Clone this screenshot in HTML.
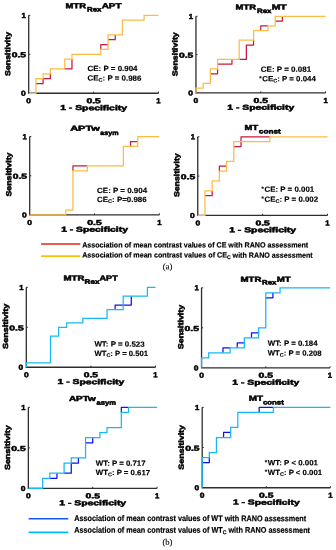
<!DOCTYPE html>
<html><head><meta charset="utf-8"><title>ROC curves</title>
<style>html,body{margin:0;padding:0;background:#fff;}svg{display:block;}.ax{stroke-width:0.5px}.lg{stroke-width:0.2px}.pv{stroke-width:0.15px}</style></head>
<body><svg width="336" height="550" viewBox="0 0 336 550">
<rect width="336" height="550" fill="#fff"/>
<g font-family="Liberation Sans, Arial, Helvetica, sans-serif" font-weight="bold" fill="#000" stroke="#000" stroke-width="0.25">
<path d="M28.7 15.3V93.25H158.5" fill="none" stroke="#2e2e2e" stroke-width="1.3"/>
<path d="M28.7 15.3h1.6M28.7 54.27h1.6M93.6 93.25v-1.6M158.5 93.25v-1.6" fill="none" stroke="#2e2e2e" stroke-width="1"/>
<path d="M35.91 83.51L43.12 83.51L43.12 78.63L50.33 78.63L50.33 73.76M64.76 68.89L71.97 68.89L71.97 64.02L71.97 59.15M100.81 49.4L100.81 44.53L108.02 44.53M108.02 39.66L115.23 39.66L115.23 34.79" fill="none" stroke="#c8193f" stroke-width="1.25" stroke-linejoin="round"/>
<path d="M28.7 93.25L35.91 93.25L35.91 78.63L43.12 78.63L43.12 73.76L50.33 73.76L50.33 68.89L64.76 68.89L64.76 59.15L71.97 59.15L71.97 54.27L100.81 54.27L100.81 49.4L108.02 49.4L108.02 34.79L122.44 34.79L122.44 20.17L144.08 20.17L144.08 15.3L158.5 15.3" fill="none" stroke="#fbbd45" stroke-width="1.25"/>
<text class="ax" x="25.9" y="17.9" font-size="7.2" text-anchor="end" textLength="4.3" lengthAdjust="spacingAndGlyphs" transform="rotate(0.05 25.9 17.9)">1</text>
<text class="ax" x="26.1" y="57.38" font-size="7.2" text-anchor="end" textLength="14.4" lengthAdjust="spacingAndGlyphs" transform="rotate(0.05 26.1 57.38)">0.5</text>
<text class="ax" x="25.7" y="95.85" font-size="7.2" text-anchor="end" textLength="4.7" lengthAdjust="spacingAndGlyphs" transform="rotate(0.05 25.7 95.85)">0</text>
<text class="ax" x="28.7" y="103.25" font-size="7.2" text-anchor="middle" textLength="4.7" lengthAdjust="spacingAndGlyphs" transform="rotate(0.05 28.7 103.25)">0</text>
<text class="ax" x="93.6" y="103.25" font-size="7.2" text-anchor="middle" textLength="14.4" lengthAdjust="spacingAndGlyphs" transform="rotate(0.05 93.6 103.25)">0.5</text>
<text class="ax" x="158.5" y="103.25" font-size="7.2" text-anchor="middle" textLength="4.3" lengthAdjust="spacingAndGlyphs" transform="rotate(0.05 158.5 103.25)">1</text>
<text class="ax" x="93.6" y="110.15" font-size="7.2" text-anchor="middle" textLength="66.8" lengthAdjust="spacingAndGlyphs" transform="rotate(0.05 93.6 110.15)">1 - Specificity</text>
<text transform="translate(10.3 53.98) rotate(-89.95)" class="ax" font-size="7.4" text-anchor="middle" textLength="44" lengthAdjust="spacingAndGlyphs">Sensitivity</text>
<text class="ax" x="65.55" y="8.3" font-size="7.3" textLength="20.5" lengthAdjust="spacingAndGlyphs" transform="rotate(0.05 65.55 8.3)">MTR</text>
<text class="ax" x="87.05" y="11.6" font-size="6.4" textLength="14.45" lengthAdjust="spacingAndGlyphs" transform="rotate(0.05 87.05 11.6)">Rex</text>
<text class="ax" x="101.65" y="8.3" font-size="7.3" textLength="19.85" lengthAdjust="spacingAndGlyphs" transform="rotate(0.05 101.65 8.3)">APT</text>
<text class="pv" x="87.6" y="70.9" font-size="7.5" textLength="49.9" lengthAdjust="spacingAndGlyphs" transform="rotate(0.05 87.6 70.9)">CE: P = 0.904</text>
<text class="pv" x="87.6" y="80.6" font-size="7.5" textLength="53.8" lengthAdjust="spacingAndGlyphs" transform="rotate(0.05 87.6 80.6)">CE<tspan font-size="5.3" dy="1.2">C</tspan><tspan dy="-1.2">: P = 0.986</tspan></text>
<path d="M195.95 16.3V92.9H325.6" fill="none" stroke="#2e2e2e" stroke-width="1.3"/>
<path d="M195.95 16.3h1.6M195.95 54.6h1.6M260.77 92.9v-1.6M325.6 92.9v-1.6" fill="none" stroke="#2e2e2e" stroke-width="1"/>
<path d="M210.36 73.75L217.56 73.75L217.56 68.96M217.56 64.18L224.76 64.18L231.96 64.18L231.96 59.39M239.17 59.39L246.37 59.39L246.37 54.6L246.37 49.81L246.37 45.02L253.57 45.02L253.57 40.24M260.77 30.66L260.77 25.88L267.98 25.88M275.18 21.09L282.38 21.09L282.38 16.3" fill="none" stroke="#c8193f" stroke-width="1.25" stroke-linejoin="round"/>
<path d="M195.95 92.9L195.95 88.11L203.15 88.11L203.15 83.33L210.36 83.33L210.36 68.96L217.56 68.96L217.56 59.39L239.17 59.39L239.17 40.24L253.57 40.24L253.57 30.66L267.98 30.66L267.98 25.88L275.18 25.88L275.18 16.3L325.6 16.3" fill="none" stroke="#fbbd45" stroke-width="1.25"/>
<text class="ax" x="193.15" y="18.9" font-size="7.2" text-anchor="end" textLength="4.3" lengthAdjust="spacingAndGlyphs" transform="rotate(0.05 193.15 18.9)">1</text>
<text class="ax" x="193.35" y="57.7" font-size="7.2" text-anchor="end" textLength="14.4" lengthAdjust="spacingAndGlyphs" transform="rotate(0.05 193.35 57.7)">0.5</text>
<text class="ax" x="192.95" y="95.5" font-size="7.2" text-anchor="end" textLength="4.7" lengthAdjust="spacingAndGlyphs" transform="rotate(0.05 192.95 95.5)">0</text>
<text class="ax" x="195.95" y="102.9" font-size="7.2" text-anchor="middle" textLength="4.7" lengthAdjust="spacingAndGlyphs" transform="rotate(0.05 195.95 102.9)">0</text>
<text class="ax" x="260.77" y="102.9" font-size="7.2" text-anchor="middle" textLength="14.4" lengthAdjust="spacingAndGlyphs" transform="rotate(0.05 260.77 102.9)">0.5</text>
<text class="ax" x="325.6" y="102.9" font-size="7.2" text-anchor="middle" textLength="4.3" lengthAdjust="spacingAndGlyphs" transform="rotate(0.05 325.6 102.9)">1</text>
<text class="ax" x="260.77" y="109.8" font-size="7.2" text-anchor="middle" textLength="66.8" lengthAdjust="spacingAndGlyphs" transform="rotate(0.05 260.77 109.8)">1 - Specificity</text>
<text transform="translate(177.55 54.3) rotate(-89.95)" class="ax" font-size="7.4" text-anchor="middle" textLength="44" lengthAdjust="spacingAndGlyphs">Sensitivity</text>
<text class="ax" x="235.55" y="9.5" font-size="7.3" textLength="20.5" lengthAdjust="spacingAndGlyphs" transform="rotate(0.05 235.55 9.5)">MTR</text>
<text class="ax" x="257.05" y="13" font-size="6.4" textLength="14.45" lengthAdjust="spacingAndGlyphs" transform="rotate(0.05 257.05 13)">Rex</text>
<text class="ax" x="271.65" y="9.5" font-size="7.3" textLength="15.1" lengthAdjust="spacingAndGlyphs" transform="rotate(0.05 271.65 9.5)">MT</text>
<text class="pv" x="260.8" y="71.8" font-size="7.5" textLength="50.3" lengthAdjust="spacingAndGlyphs" transform="rotate(0.05 260.8 71.8)">CE: P = 0.081</text>
<text class="pv" x="261.5" y="80.15" font-size="6" text-anchor="end" transform="rotate(0.05 261.5 80.15)">*</text>
<text class="pv" x="262.2" y="81.3" font-size="7.5" textLength="53.6" lengthAdjust="spacingAndGlyphs" transform="rotate(0.05 262.2 81.3)">CE<tspan font-size="5.3" dy="1.2">C</tspan><tspan dy="-1.2">: P = 0.044</tspan></text>
<path d="M29.7 136.6V214.95H159.4" fill="none" stroke="#2e2e2e" stroke-width="1.3"/>
<path d="M29.7 136.6h1.6M29.7 175.77h1.6M94.55 214.95v-1.6M159.4 214.95v-1.6" fill="none" stroke="#2e2e2e" stroke-width="1"/>
<path d="M72.93 170.88L72.93 165.98L80.14 165.98L87.34 165.98M130.58 146.39L130.58 141.5L137.78 141.5" fill="none" stroke="#c8193f" stroke-width="1.25" stroke-linejoin="round"/>
<path d="M29.7 214.95L65.73 214.95L65.73 210.05L72.93 210.05L72.93 170.88L87.34 170.88L87.34 165.98L123.37 165.98L123.37 146.39L137.78 146.39L137.78 136.6L159.4 136.6" fill="none" stroke="#fbbd45" stroke-width="1.25"/>
<text class="ax" x="26.9" y="139.2" font-size="7.2" text-anchor="end" textLength="4.3" lengthAdjust="spacingAndGlyphs" transform="rotate(0.05 26.9 139.2)">1</text>
<text class="ax" x="27.1" y="178.87" font-size="7.2" text-anchor="end" textLength="14.4" lengthAdjust="spacingAndGlyphs" transform="rotate(0.05 27.1 178.87)">0.5</text>
<text class="ax" x="26.7" y="217.55" font-size="7.2" text-anchor="end" textLength="4.7" lengthAdjust="spacingAndGlyphs" transform="rotate(0.05 26.7 217.55)">0</text>
<text class="ax" x="29.7" y="224.95" font-size="7.2" text-anchor="middle" textLength="4.7" lengthAdjust="spacingAndGlyphs" transform="rotate(0.05 29.7 224.95)">0</text>
<text class="ax" x="94.55" y="224.95" font-size="7.2" text-anchor="middle" textLength="14.4" lengthAdjust="spacingAndGlyphs" transform="rotate(0.05 94.55 224.95)">0.5</text>
<text class="ax" x="159.4" y="224.95" font-size="7.2" text-anchor="middle" textLength="4.3" lengthAdjust="spacingAndGlyphs" transform="rotate(0.05 159.4 224.95)">1</text>
<text class="ax" x="94.55" y="231.85" font-size="7.2" text-anchor="middle" textLength="66.8" lengthAdjust="spacingAndGlyphs" transform="rotate(0.05 94.55 231.85)">1 - Specificity</text>
<text transform="translate(11.3 174.57) rotate(-89.95)" class="ax" font-size="7.4" text-anchor="middle" textLength="44.1" lengthAdjust="spacingAndGlyphs">Sensitivity</text>
<text class="ax" x="70.15" y="130.8" font-size="7.3" textLength="29.7" lengthAdjust="spacingAndGlyphs" transform="rotate(0.05 70.15 130.8)">APTw</text>
<text class="ax" x="100.35" y="134.9" font-size="6.4" textLength="18.2" lengthAdjust="spacingAndGlyphs" transform="rotate(0.05 100.35 134.9)">asym</text>
<text class="pv" x="97.1" y="192.9" font-size="7.5" textLength="50" lengthAdjust="spacingAndGlyphs" transform="rotate(0.05 97.1 192.9)">CE: P = 0.904</text>
<text class="pv" x="97.1" y="201.9" font-size="7.5" textLength="49.5" lengthAdjust="spacingAndGlyphs" transform="rotate(0.05 97.1 201.9)">CE<tspan font-size="5.3" dy="1.2">C</tspan><tspan dy="-1.2">: P=0.986</tspan></text>
<path d="M197.75 136.75V215.4H327.5" fill="none" stroke="#2e2e2e" stroke-width="1.3"/>
<path d="M197.75 136.75h1.6M197.75 176.07h1.6M262.62 215.4v-1.6M327.5 215.4v-1.6" fill="none" stroke="#2e2e2e" stroke-width="1"/>
<path d="M204.96 195.74L212.17 195.74L212.17 190.82M219.38 171.16L219.38 166.24L226.58 166.24M233.79 146.58L241 146.58L241 141.67L241 136.75L248.21 136.75L255.42 136.75L262.62 136.75L269.83 136.75" fill="none" stroke="#c8193f" stroke-width="1.25" stroke-linejoin="round"/>
<path d="M197.75 215.4L204.96 215.4L204.96 190.82L212.17 190.82L212.17 180.99L219.38 180.99L219.38 171.16L226.58 171.16L226.58 161.33L233.79 161.33L233.79 141.67L269.83 141.67L269.83 136.75L327.5 136.75" fill="none" stroke="#fbbd45" stroke-width="1.25"/>
<text class="ax" x="194.95" y="139.35" font-size="7.2" text-anchor="end" textLength="4.3" lengthAdjust="spacingAndGlyphs" transform="rotate(0.05 194.95 139.35)">1</text>
<text class="ax" x="195.15" y="179.17" font-size="7.2" text-anchor="end" textLength="14.4" lengthAdjust="spacingAndGlyphs" transform="rotate(0.05 195.15 179.17)">0.5</text>
<text class="ax" x="194.75" y="218" font-size="7.2" text-anchor="end" textLength="4.7" lengthAdjust="spacingAndGlyphs" transform="rotate(0.05 194.75 218)">0</text>
<text class="ax" x="197.75" y="225.4" font-size="7.2" text-anchor="middle" textLength="4.7" lengthAdjust="spacingAndGlyphs" transform="rotate(0.05 197.75 225.4)">0</text>
<text class="ax" x="262.62" y="225.4" font-size="7.2" text-anchor="middle" textLength="14.4" lengthAdjust="spacingAndGlyphs" transform="rotate(0.05 262.62 225.4)">0.5</text>
<text class="ax" x="327.5" y="225.4" font-size="7.2" text-anchor="middle" textLength="4.3" lengthAdjust="spacingAndGlyphs" transform="rotate(0.05 327.5 225.4)">1</text>
<text class="ax" x="262.62" y="232.3" font-size="7.2" text-anchor="middle" textLength="66.8" lengthAdjust="spacingAndGlyphs" transform="rotate(0.05 262.62 232.3)">1 - Specificity</text>
<text transform="translate(179.35 175.22) rotate(-89.95)" class="ax" font-size="7.4" text-anchor="middle" textLength="43.8" lengthAdjust="spacingAndGlyphs">Sensitivity</text>
<text class="ax" x="244.55" y="129.9" font-size="7.3" textLength="13.6" lengthAdjust="spacingAndGlyphs" transform="rotate(0.05 244.55 129.9)">MT</text>
<text class="ax" x="258.85" y="133.5" font-size="6.4" textLength="21.9" lengthAdjust="spacingAndGlyphs" transform="rotate(0.05 258.85 133.5)">const</text>
<text class="pv" x="263.8" y="190.65" font-size="6" text-anchor="end" transform="rotate(0.05 263.8 190.65)">*</text>
<text class="pv" x="264.5" y="191.8" font-size="7.5" textLength="49.7" lengthAdjust="spacingAndGlyphs" transform="rotate(0.05 264.5 191.8)">CE: P = 0.001</text>
<text class="pv" x="263.8" y="200.55" font-size="6" text-anchor="end" transform="rotate(0.05 263.8 200.55)">*</text>
<text class="pv" x="264.5" y="201.7" font-size="7.5" textLength="53.6" lengthAdjust="spacingAndGlyphs" transform="rotate(0.05 264.5 201.7)">CE<tspan font-size="5.3" dy="1.2">C</tspan><tspan dy="-1.2">: P = 0.002</tspan></text>
<path d="M26.3 287.35V367.25H155.5" fill="none" stroke="#2e2e2e" stroke-width="1.3"/>
<path d="M26.3 287.35h1.6M26.3 327.3h1.6M90.9 367.25v-1.6M155.5 367.25v-1.6" fill="none" stroke="#2e2e2e" stroke-width="1"/>
<path d="M115.12 309.54L115.12 305.11L123.2 305.11L131.28 305.11L131.28 300.67L131.28 296.23" fill="none" stroke="#1010f2" stroke-width="1.25" stroke-linejoin="round"/>
<path d="M26.3 367.25L26.3 362.81L50.52 362.81L50.52 336.18L58.6 336.18L58.6 327.3L66.67 327.3L66.67 322.86L82.82 322.86L82.82 318.42L107.05 318.42L107.05 309.54L123.2 309.54L123.2 296.23L147.42 296.23L147.42 287.35L155.5 287.35" fill="none" stroke="#18b8f2" stroke-width="1.25"/>
<text class="ax" x="23.5" y="289.95" font-size="7.2" text-anchor="end" textLength="4.3" lengthAdjust="spacingAndGlyphs" transform="rotate(0.05 23.5 289.95)">1</text>
<text class="ax" x="23.7" y="330.4" font-size="7.2" text-anchor="end" textLength="14.4" lengthAdjust="spacingAndGlyphs" transform="rotate(0.05 23.7 330.4)">0.5</text>
<text class="ax" x="23.3" y="369.85" font-size="7.2" text-anchor="end" textLength="4.7" lengthAdjust="spacingAndGlyphs" transform="rotate(0.05 23.3 369.85)">0</text>
<text class="ax" x="26.3" y="377.25" font-size="7.2" text-anchor="middle" textLength="4.7" lengthAdjust="spacingAndGlyphs" transform="rotate(0.05 26.3 377.25)">0</text>
<text class="ax" x="90.9" y="377.25" font-size="7.2" text-anchor="middle" textLength="14.4" lengthAdjust="spacingAndGlyphs" transform="rotate(0.05 90.9 377.25)">0.5</text>
<text class="ax" x="155.5" y="377.25" font-size="7.2" text-anchor="middle" textLength="4.3" lengthAdjust="spacingAndGlyphs" transform="rotate(0.05 155.5 377.25)">1</text>
<text class="ax" x="90.9" y="384.15" font-size="7.2" text-anchor="middle" textLength="66.8" lengthAdjust="spacingAndGlyphs" transform="rotate(0.05 90.9 384.15)">1 - Specificity</text>
<text transform="translate(7.9 326.3) rotate(-89.95)" class="ax" font-size="7.4" text-anchor="middle" textLength="45.2" lengthAdjust="spacingAndGlyphs">Sensitivity</text>
<text class="ax" x="63.5" y="280.6" font-size="7.3" textLength="20.95" lengthAdjust="spacingAndGlyphs" transform="rotate(0.05 63.5 280.6)">MTR</text>
<text class="ax" x="84.55" y="283.8" font-size="6.4" textLength="14.9" lengthAdjust="spacingAndGlyphs" transform="rotate(0.05 84.55 283.8)">Rex</text>
<text class="ax" x="99.55" y="280.6" font-size="7.3" textLength="18.2" lengthAdjust="spacingAndGlyphs" transform="rotate(0.05 99.55 280.6)">APT</text>
<text class="pv" x="94.4" y="346.6" font-size="7.5" textLength="50.2" lengthAdjust="spacingAndGlyphs" transform="rotate(0.05 94.4 346.6)">WT: P = 0.523</text>
<text class="pv" x="94.4" y="355.9" font-size="7.5" textLength="53.7" lengthAdjust="spacingAndGlyphs" transform="rotate(0.05 94.4 355.9)">WT<tspan font-size="5.3" dy="1.2">C</tspan><tspan dy="-1.2">: P = 0.501</tspan></text>
<path d="M201.55 287.75V367.85H330" fill="none" stroke="#2e2e2e" stroke-width="1.3"/>
<path d="M201.55 287.75h1.6M201.55 327.8h1.6M265.77 367.85v-1.6M330 367.85v-1.6" fill="none" stroke="#2e2e2e" stroke-width="1"/>
<path d="M222.96 352.83L222.96 347.83L230.09 347.83M237.23 347.83L237.23 342.82L244.37 342.82M251.5 337.81L251.5 332.81L258.64 332.81M265.77 297.76L272.91 297.76L272.91 292.76" fill="none" stroke="#1010f2" stroke-width="1.25" stroke-linejoin="round"/>
<path d="M201.55 367.85L201.55 357.84L208.69 357.84L208.69 352.83L230.09 352.83L230.09 347.83L244.37 347.83L244.37 337.81L258.64 337.81L258.64 327.8L265.77 327.8L265.77 292.76L280.05 292.76L280.05 287.75L330 287.75" fill="none" stroke="#18b8f2" stroke-width="1.25"/>
<text class="ax" x="198.75" y="290.35" font-size="7.2" text-anchor="end" textLength="4.3" lengthAdjust="spacingAndGlyphs" transform="rotate(0.05 198.75 290.35)">1</text>
<text class="ax" x="198.95" y="330.9" font-size="7.2" text-anchor="end" textLength="14.4" lengthAdjust="spacingAndGlyphs" transform="rotate(0.05 198.95 330.9)">0.5</text>
<text class="ax" x="198.55" y="370.45" font-size="7.2" text-anchor="end" textLength="4.7" lengthAdjust="spacingAndGlyphs" transform="rotate(0.05 198.55 370.45)">0</text>
<text class="ax" x="201.55" y="377.85" font-size="7.2" text-anchor="middle" textLength="4.7" lengthAdjust="spacingAndGlyphs" transform="rotate(0.05 201.55 377.85)">0</text>
<text class="ax" x="265.77" y="377.85" font-size="7.2" text-anchor="middle" textLength="14.4" lengthAdjust="spacingAndGlyphs" transform="rotate(0.05 265.77 377.85)">0.5</text>
<text class="ax" x="330" y="377.85" font-size="7.2" text-anchor="middle" textLength="4.3" lengthAdjust="spacingAndGlyphs" transform="rotate(0.05 330 377.85)">1</text>
<text class="ax" x="265.77" y="384.75" font-size="7.2" text-anchor="middle" textLength="66.8" lengthAdjust="spacingAndGlyphs" transform="rotate(0.05 265.77 384.75)">1 - Specificity</text>
<text transform="translate(183.15 327) rotate(-89.95)" class="ax" font-size="7.4" text-anchor="middle" textLength="44.4" lengthAdjust="spacingAndGlyphs">Sensitivity</text>
<text class="ax" x="240.55" y="281.8" font-size="7.3" textLength="20.95" lengthAdjust="spacingAndGlyphs" transform="rotate(0.05 240.55 281.8)">MTR</text>
<text class="ax" x="262.05" y="284.6" font-size="6.4" textLength="14.45" lengthAdjust="spacingAndGlyphs" transform="rotate(0.05 262.05 284.6)">Rex</text>
<text class="ax" x="276.65" y="281.8" font-size="7.3" textLength="14" lengthAdjust="spacingAndGlyphs" transform="rotate(0.05 276.65 281.8)">MT</text>
<text class="pv" x="267.8" y="345.8" font-size="7.5" textLength="49.7" lengthAdjust="spacingAndGlyphs" transform="rotate(0.05 267.8 345.8)">WT: P = 0.184</text>
<text class="pv" x="267.8" y="355.6" font-size="7.5" textLength="53.8" lengthAdjust="spacingAndGlyphs" transform="rotate(0.05 267.8 355.6)">WT<tspan font-size="5.3" dy="1.2">C</tspan><tspan dy="-1.2">: P = 0.208</tspan></text>
<path d="M28.35 407.35V488.38H157.1" fill="none" stroke="#2e2e2e" stroke-width="1.3"/>
<path d="M28.35 407.35h1.6M28.35 447.87h1.6M92.72 488.38v-1.6M157.1 488.38v-1.6" fill="none" stroke="#2e2e2e" stroke-width="1"/>
<path d="M49.81 478.25L56.96 478.25L56.96 473.19M64.11 473.19L71.27 473.19L71.27 468.12L71.27 463.06L78.42 463.06L78.42 457.99M85.57 442.8L92.72 442.8L92.72 437.74M121.34 412.41L121.34 407.35L128.49 407.35" fill="none" stroke="#1010f2" stroke-width="1.25" stroke-linejoin="round"/>
<path d="M28.35 488.38L42.66 488.38L42.66 478.25L49.81 478.25L49.81 473.19L64.11 473.19L64.11 463.06L71.27 463.06L71.27 457.99L85.57 457.99L85.57 437.74L99.88 437.74L99.88 432.67L107.03 432.67L107.03 427.61L121.34 427.61L121.34 412.41L128.49 412.41L128.49 407.35L157.1 407.35" fill="none" stroke="#18b8f2" stroke-width="1.25"/>
<text class="ax" x="25.55" y="409.95" font-size="7.2" text-anchor="end" textLength="4.3" lengthAdjust="spacingAndGlyphs" transform="rotate(0.05 25.55 409.95)">1</text>
<text class="ax" x="25.75" y="450.97" font-size="7.2" text-anchor="end" textLength="14.4" lengthAdjust="spacingAndGlyphs" transform="rotate(0.05 25.75 450.97)">0.5</text>
<text class="ax" x="25.35" y="490.98" font-size="7.2" text-anchor="end" textLength="4.7" lengthAdjust="spacingAndGlyphs" transform="rotate(0.05 25.35 490.98)">0</text>
<text class="ax" x="28.35" y="498.38" font-size="7.2" text-anchor="middle" textLength="4.7" lengthAdjust="spacingAndGlyphs" transform="rotate(0.05 28.35 498.38)">0</text>
<text class="ax" x="92.72" y="498.38" font-size="7.2" text-anchor="middle" textLength="14.4" lengthAdjust="spacingAndGlyphs" transform="rotate(0.05 92.72 498.38)">0.5</text>
<text class="ax" x="157.1" y="498.38" font-size="7.2" text-anchor="middle" textLength="4.3" lengthAdjust="spacingAndGlyphs" transform="rotate(0.05 157.1 498.38)">1</text>
<text class="ax" x="92.72" y="505.28" font-size="7.2" text-anchor="middle" textLength="66.8" lengthAdjust="spacingAndGlyphs" transform="rotate(0.05 92.72 505.28)">1 - Specificity</text>
<text transform="translate(9.95 447.67) rotate(-89.95)" class="ax" font-size="7.4" text-anchor="middle" textLength="44.9" lengthAdjust="spacingAndGlyphs">Sensitivity</text>
<text class="ax" x="68.95" y="401" font-size="7.3" textLength="26.9" lengthAdjust="spacingAndGlyphs" transform="rotate(0.05 68.95 401)">APTw</text>
<text class="ax" x="96.45" y="404.7" font-size="6.4" textLength="19.6" lengthAdjust="spacingAndGlyphs" transform="rotate(0.05 96.45 404.7)">asym</text>
<text class="pv" x="95.8" y="465.7" font-size="7.5" textLength="49.8" lengthAdjust="spacingAndGlyphs" transform="rotate(0.05 95.8 465.7)">WT: P = 0.717</text>
<text class="pv" x="95.8" y="475.1" font-size="7.5" textLength="54.3" lengthAdjust="spacingAndGlyphs" transform="rotate(0.05 95.8 475.1)">WT<tspan font-size="5.3" dy="1.2">C</tspan><tspan dy="-1.2">: P = 0.617</tspan></text>
<path d="M202.2 407.35V487.75H330.4" fill="none" stroke="#2e2e2e" stroke-width="1.3"/>
<path d="M202.2 407.35h1.6M202.2 447.55h1.6M266.3 487.75v-1.6M330.4 487.75v-1.6" fill="none" stroke="#2e2e2e" stroke-width="1"/>
<path d="M202.2 462.62L209.32 462.62L209.32 457.6M223.57 437.5L223.57 432.48L230.69 432.48M259.18 412.38L259.18 407.35L266.3 407.35L273.42 407.35" fill="none" stroke="#1010f2" stroke-width="1.25" stroke-linejoin="round"/>
<path d="M202.2 487.75L202.2 457.6L209.32 457.6L209.32 452.57L216.44 452.57L216.44 437.5L230.69 437.5L230.69 427.45L237.81 427.45L237.81 412.38L273.42 412.38L273.42 407.35L330.4 407.35" fill="none" stroke="#18b8f2" stroke-width="1.25"/>
<text class="ax" x="199.4" y="409.95" font-size="7.2" text-anchor="end" textLength="4.3" lengthAdjust="spacingAndGlyphs" transform="rotate(0.05 199.4 409.95)">1</text>
<text class="ax" x="199.6" y="450.65" font-size="7.2" text-anchor="end" textLength="14.4" lengthAdjust="spacingAndGlyphs" transform="rotate(0.05 199.6 450.65)">0.5</text>
<text class="ax" x="199.2" y="490.35" font-size="7.2" text-anchor="end" textLength="4.7" lengthAdjust="spacingAndGlyphs" transform="rotate(0.05 199.2 490.35)">0</text>
<text class="ax" x="202.2" y="497.75" font-size="7.2" text-anchor="middle" textLength="4.7" lengthAdjust="spacingAndGlyphs" transform="rotate(0.05 202.2 497.75)">0</text>
<text class="ax" x="266.3" y="497.75" font-size="7.2" text-anchor="middle" textLength="14.4" lengthAdjust="spacingAndGlyphs" transform="rotate(0.05 266.3 497.75)">0.5</text>
<text class="ax" x="330.4" y="497.75" font-size="7.2" text-anchor="middle" textLength="4.3" lengthAdjust="spacingAndGlyphs" transform="rotate(0.05 330.4 497.75)">1</text>
<text class="ax" x="266.3" y="504.65" font-size="7.2" text-anchor="middle" textLength="66.8" lengthAdjust="spacingAndGlyphs" transform="rotate(0.05 266.3 504.65)">1 - Specificity</text>
<text transform="translate(183.8 447.3) rotate(-89.95)" class="ax" font-size="7.4" text-anchor="middle" textLength="44.7" lengthAdjust="spacingAndGlyphs">Sensitivity</text>
<text class="ax" x="248.65" y="400.7" font-size="7.3" textLength="14.3" lengthAdjust="spacingAndGlyphs" transform="rotate(0.05 248.65 400.7)">MT</text>
<text class="ax" x="262.95" y="404.6" font-size="6.4" textLength="20.9" lengthAdjust="spacingAndGlyphs" transform="rotate(0.05 262.95 404.6)">const</text>
<text class="pv" x="267.1" y="464.15" font-size="6" text-anchor="end" transform="rotate(0.05 267.1 464.15)">*</text>
<text class="pv" x="267.8" y="465.3" font-size="7.5" textLength="50.2" lengthAdjust="spacingAndGlyphs" transform="rotate(0.05 267.8 465.3)">WT: P &lt; 0.001</text>
<text class="pv" x="267.1" y="473.75" font-size="6" text-anchor="end" transform="rotate(0.05 267.1 473.75)">*</text>
<text class="pv" x="267.8" y="474.9" font-size="7.5" textLength="54.3" lengthAdjust="spacingAndGlyphs" transform="rotate(0.05 267.8 474.9)">WT<tspan font-size="5.3" dy="1.2">C</tspan><tspan dy="-1.2">: P &lt; 0.001</tspan></text>
<path d="M41.1 244H80.4" stroke="#d9291f" stroke-width="1.6"/>
<path d="M41.1 256.1H80.4" stroke="#fbc20c" stroke-width="1.6"/>
<text class="lg" x="82.2" y="247.4" font-size="7.6" textLength="226" lengthAdjust="spacingAndGlyphs" transform="rotate(0.05 82.2 247.4)">Association of mean contrast values of CE with RANO assessment</text>
<text class="lg" x="82.2" y="257.5" font-size="7.6" textLength="230.5" lengthAdjust="spacingAndGlyphs" transform="rotate(0.05 82.2 257.5)">Association of mean contrast values of CE<tspan font-size="5.4" dy="1.4">C</tspan><tspan dy="-1.4"> with RANO assessment</tspan></text>
<path d="M28.6 518.8H68.3" stroke="#165af5" stroke-width="1.6"/>
<path d="M28.6 532.4H68.3" stroke="#00bdf5" stroke-width="1.6"/>
<text class="lg" x="74.2" y="521" font-size="8.2" textLength="232" lengthAdjust="spacingAndGlyphs" transform="rotate(0.05 74.2 521)">Association of mean contrast values of WT with RANO assessment</text>
<text class="lg" x="74.2" y="532.7" font-size="8.2" textLength="235.8" lengthAdjust="spacingAndGlyphs" transform="rotate(0.05 74.2 532.7)">Association of mean contrast values of WT<tspan font-size="5.8" dy="1.4">C</tspan><tspan dy="-1.4"> with RANO assessment</tspan></text>
<text x="162.8" y="269.2" font-size="8.6" font-family="Liberation Serif, Times New Roman, serif" font-weight="normal" stroke-width="0.12" transform="rotate(0.05 162.8 269.2)">(a)</text>
<text x="162.4" y="544.8" font-size="8.6" font-family="Liberation Serif, Times New Roman, serif" font-weight="normal" stroke-width="0.12" transform="rotate(0.05 162.4 544.8)">(b)</text>
</g></svg></body></html>
